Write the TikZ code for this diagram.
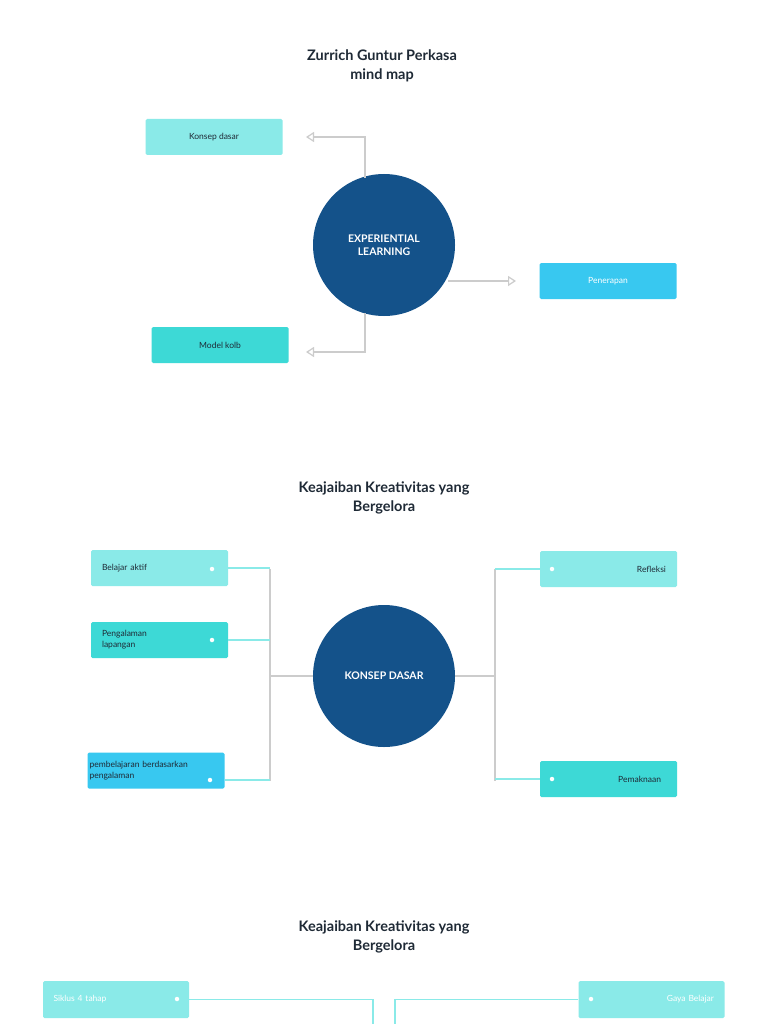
\documentclass[tikz,border=0pt]{standalone}
\usepackage{fontspec}
\setmainfont{Lato}
\usetikzlibrary{arrows.meta}
\definecolor{lc}{HTML}{8AEAE8}
\definecolor{tc}{HTML}{3DD9D6}
\definecolor{sc}{HTML}{38C8F0}
\definecolor{nv}{HTML}{14528A}
\definecolor{gl}{HTML}{CCCCCC}
\definecolor{tx}{HTML}{1F2A36}
\tikzset{
 box/.style={rounded corners=1.5pt,minimum width=137pt,minimum height=36pt,inner sep=0pt,font=\fontsize{8.5}{11}\selectfont,text=tx},
 hub/.style={circle,fill=nv,minimum size=142pt,inner sep=0pt,text=white,font=\bfseries\fontsize{10.5}{13}\selectfont,align=center},
 ttl/.style={font=\bfseries\fontsize{14.5}{19}\selectfont,text=tx,align=center},
 gline/.style={draw=gl,line width=1.2pt},
 cline/.style={draw=lc,line width=1.2pt},
 arr/.style={gline,-{Triangle[open,length=8pt,width=10pt]}},
 dot/.style={circle,fill=white,inner sep=0pt,minimum size=4.5pt}
}
\begin{document}
\begin{tikzpicture}[x=1pt,y=-1pt]
\useasboundingbox[fill=white] (0,0) rectangle (768,1024);
% section 1
\node[ttl] (t1) at (382,66) {Zurrich Guntur Perkasa\\mind map};
\node[hub] (h1) at (384,245) {EXPERIENTIAL\\LEARNING};
\node[box,fill=lc] (k1) at (214,137) {Konsep dasar};
\node[box,fill=sc,text=white] (p1) at (608,281) {Penerapan};
\node[box,fill=tc] (m1) at (220,345) {Model kolb};
\coordinate (a1) at (306,137);
\coordinate (a2) at (516,281);
\coordinate (a3) at (306,352);
\draw[arr] (h1.north -| 365,0) ++(0,4) |- (a1);
\draw[arr] (h1.center) ++(64,36) -- (a2);
\draw[arr] (h1.south -| 365,0) ++(0,-3) |- (a3);
% section 2
\node[ttl] (t2) at (384,498) {Keajaiban Kreativitas yang\\Bergelora};
\coordinate (lv1) at (270,569); \coordinate (lv2) at (270,781);
\coordinate (rv1) at (495,569); \coordinate (rv2) at (495,781);
\draw[gline] (lv1) -- (lv2);
\draw[gline] (rv1) -- (rv2);
\node[hub] (h2) at (384,676) {KONSEP DASAR};
\draw[gline] (h2.west) -- (h2.west -| lv1);
\draw[gline] (h2.east) -- (h2.east -| rv1);
\node[box,fill=lc,text width=115pt,align=left] (b1) at (159.5,568) {Belajar aktif};
\node[box,fill=tc,text width=115pt,align=left] (b2) at (159.5,640) {Pengalaman\\lapangan};
\node[box,fill=sc,text width=133pt,align=left] (b3) at (156,770.5) {pembelajaran berdasarkan\\pengalaman};
\node[box,fill=lc,text width=115pt,align=right] (b4) at (608.5,569) {Refleksi};
\node[box,fill=tc,text width=105pt,align=right] (b5) at (608.5,779) {Pemaknaan};
\draw[cline] (b1.east) -- (b1.east -| lv1);
\draw[cline] (b2.east) -- (b2.east -| lv1);
\draw[cline] (b3.east |- 0,780) -- (lv2 |- 0,780);
\draw[cline] (b4.west) -- (b4.west -| rv1);
\draw[cline] (b5.west) -- (b5.west -| rv1);
\node[dot] (d1) at (212,569) {};
\node[dot] (d2) at (212,640) {};
\node[dot] (d3) at (210,780) {};
\node[dot] (d4) at (552,569) {};
\node[dot] (d5) at (552,779) {};
% section 3
\node[ttl] (t3) at (384,937) {Keajaiban Kreativitas yang\\Bergelora};
\node[box,fill=lc,text=white,minimum width=146pt,minimum height=37pt,text width=125pt,align=left] (s1) at (116,999.5) {Siklus 4 tahap};
\node[box,fill=lc,text=white,minimum width=146pt,minimum height=37pt,text width=125pt,align=right] (g1) at (651.5,999.5) {Gaya Belajar};
\coordinate (c1) at (373,1026);
\coordinate (c2) at (395,1026);
\draw[cline] (s1.east) -| (c1);
\draw[cline] (g1.west) -| (c2);
\node[dot] (d6) at (177,999) {};
\node[dot] (d7) at (591,999) {};
\end{tikzpicture}
\end{document}
